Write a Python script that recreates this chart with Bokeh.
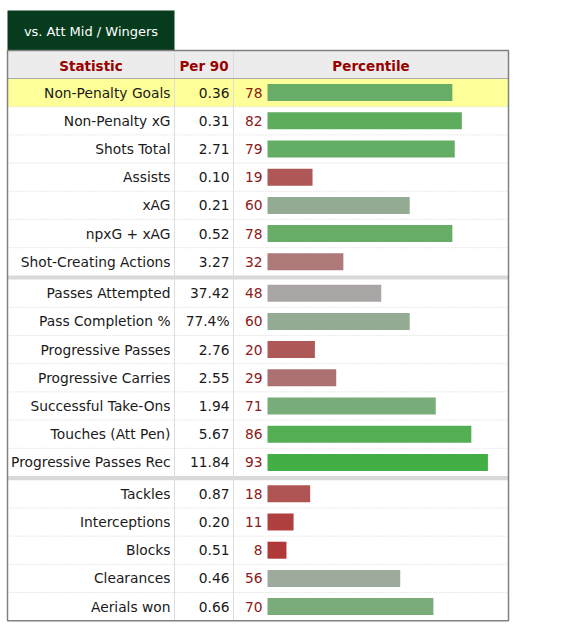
from bokeh.plotting import figure
from bokeh.models import Range1d, ColumnDataSource
from bokeh.core.properties import value
from bokeh.embed import file_html
from bokeh.resources import INLINE

# ---------------- data ----------------
title = "vs. Att Mid / Wingers"
headers = ["Statistic", "Per 90", "Percentile"]
stats = ["Non-Penalty Goals", "Non-Penalty xG", "Shots Total", "Assists", "xAG",
         "npxG + xAG", "Shot-Creating Actions",
         "Passes Attempted", "Pass Completion %", "Progressive Passes",
         "Progressive Carries", "Successful Take-Ons", "Touches (Att Pen)",
         "Progressive Passes Rec",
         "Tackles", "Interceptions", "Blocks", "Clearances", "Aerials won"]
per90 = ["0.36", "0.31", "2.71", "0.10", "0.21", "0.52", "3.27",
         "37.42", "77.4%", "2.76", "2.55", "1.94", "5.67", "11.84",
         "0.87", "0.20", "0.51", "0.46", "0.66"]
percentile = [78, 82, 79, 19, 60, 78, 32,
              48, 60, 20, 29, 71, 86, 93,
              18, 11, 8, 56, 70]
group = [0] * 7 + [1] * 7 + [2] * 5
highlight = [0]

# ---------------- layout ----------------
W, H = 566, 629
L, R, C1, C2 = 7, 508, 174, 233
TAB_TOP, HEAD_TOP, HEAD_BOT = 10, 50, 78
ROW_H, GAP = 28.2, 3.2
BAR_H = 17
PX_PER_PCT = 2.37
BAR_X0 = 267
FONT = value("DejaVu Sans")
FS = "13.8px"


def bar_color(v):
    stops = [(0, (178, 34, 34)), (50, (170, 170, 170)), (100, (50, 175, 50))]
    for (a, ca), (b, cb) in zip(stops[:-1], stops[1:]):
        if a <= v <= b:
            t = (v - a) / (b - a)
            c = [round(ca[i] + (cb[i] - ca[i]) * t) for i in range(3)]
            return "#%02x%02x%02x" % tuple(c)
    return "#aaaaaa"


tops = [HEAD_BOT + i * ROW_H + g * GAP for i, g in enumerate(group)]
centers = [t + ROW_H / 2 for t in tops]
bottom = tops[-1] + ROW_H

p = figure(width=W, height=H, x_range=Range1d(0, W), y_range=Range1d(H, 0),
           output_backend="svg", toolbar_location=None,
           x_axis_type=None, y_axis_type=None, min_border=0,
           outline_line_color=None, background_fill_color="white")
p.grid.visible = False
p.extra_x_ranges = {"pct": Range1d(-BAR_X0 / PX_PER_PCT, (W - BAR_X0) / PX_PER_PCT)}

# tab
p.quad(left=L, right=C1, top=TAB_TOP, bottom=HEAD_TOP, fill_color="#063b1d", line_color=None)
p.text(x=[(L + C1) / 2], y=[(TAB_TOP + HEAD_TOP) / 2 + 1], text=[title],
       text_font=FONT, text_font_size="13px", text_color="white",
       text_align="center", text_baseline="middle")

# header background
p.quad(left=L, right=R, top=HEAD_TOP, bottom=HEAD_BOT, fill_color="#ececec", line_color=None)

# highlight rows
for i in highlight:
    p.quad(left=L, right=R, top=tops[i], bottom=tops[i] + ROW_H, fill_color="#ffff99", line_color=None)

# dotted row separators
ys = []
for i in range(len(stats) - 1):
    if group[i] == group[i + 1]:
        ys.append(tops[i] + ROW_H)
p.segment(x0=[L] * len(ys), x1=[R] * len(ys), y0=ys, y1=ys,
          line_color="#d0d0d0", line_dash="1 2", line_width=1)

# group separators
gs_top, gs_bot = [], []
for i in range(len(stats) - 1):
    if group[i] != group[i + 1]:
        gs_top.append(tops[i] + ROW_H - 0.5)
        gs_bot.append(tops[i + 1] + 0.5)
p.quad(left=[L] * len(gs_top), right=[R] * len(gs_top), top=gs_top, bottom=gs_bot,
       fill_color="#d9d9d9", line_color=None)

# column lines
p.segment(x0=[C1, C2], x1=[C1, C2], y0=[HEAD_TOP] * 2, y1=[bottom] * 2,
          line_color="#dddddd", line_width=1)
# header bottom line
p.segment(x0=[L], x1=[R], y0=[HEAD_BOT], y1=[HEAD_BOT], line_color="#aaaaaa", line_width=1)
# outer border
p.quad(left=L, right=R, top=HEAD_TOP, bottom=bottom, fill_color=None,
       line_color="#808080", line_width=1.5)

# header texts
p.text(x=[(L + C1) / 2, (C1 + C2) / 2, (C2 + R) / 2], y=[(HEAD_TOP + HEAD_BOT) / 2 + 1] * 3,
       text=headers, text_font=FONT, text_font_size="13.5px", text_font_style="bold",
       text_color="#990000", text_align="center", text_baseline="middle")

src = ColumnDataSource(dict(
    stat=stats, per90=per90, pct=percentile, pct_s=[str(v) for v in percentile],
    y=centers, y0=[c - BAR_H / 2 for c in centers], y1=[c + BAR_H / 2 for c in centers],
    zero=[0] * len(stats), color=[bar_color(v) for v in percentile],
    xs=[C1 - 4] * len(stats), xp=[C2 - 4] * len(stats), xq=[BAR_X0 - 5] * len(stats),
))

p.quad(left="zero", right="pct", top="y0", bottom="y1", fill_color="color",
       line_color=None, source=src, x_range_name="pct")

p.text(x="xs", y="y", text="stat", source=src, text_font=FONT, text_font_size=FS,
       text_color="#1a1a1a", text_align="right", text_baseline="middle")
p.text(x="xp", y="y", text="per90", source=src, text_font=FONT, text_font_size=FS,
       text_color="#1a1a1a", text_align="right", text_baseline="middle")
p.text(x="xq", y="y", text="pct_s", source=src, text_font=FONT, text_font_size=FS,
       text_color="#8b1a1a", text_align="right", text_baseline="middle")

open("out.html", "w").write(file_html(p, INLINE))
